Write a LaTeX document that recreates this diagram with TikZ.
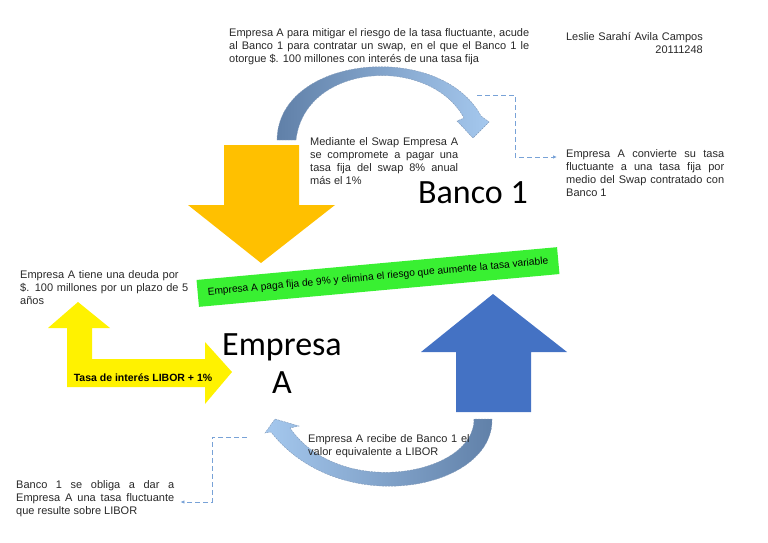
\documentclass[tikz,border=0pt]{standalone}
\usepackage{fontspec}
\setmainfont{Liberation Sans}
\newfontfamily\calibri{Carlito}
\usepackage{tikz}
\usetikzlibrary{arrows.meta}

\definecolor{swapgold}{RGB}{255,192,0}
\definecolor{swapblue}{RGB}{68,114,196}
\definecolor{liborgreen}{RGB}{57,240,50}
\definecolor{steeldark}{RGB}{96,128,168}
\definecolor{steellight}{RGB}{165,200,238}
\definecolor{dashblue}{RGB}{120,162,215}
\definecolor{textgray}{RGB}{40,40,40}

\begin{document}
\begin{tikzpicture}[x=1pt, y=-1pt,
  note/.style={inner sep=0, anchor=base west, text=textgray, font=\fontsize{11}{13}\selectfont},
  bigtxt/.style={inner sep=0, anchor=base, font=\calibri\fontsize{34}{38}\selectfont},
  dashlink/.style={dashblue, line width=0.8pt, dash pattern=on 5pt off 3pt, -{Latex[length=4pt,width=3.5pt]}},
  band/.style={draw=steeldark!80, line width=0.4pt, dash pattern=on 2pt off 1pt}]

\useasboundingbox (0,0) rectangle (768,543);

% Down arrow to Banco 1
\fill[swapgold] (224,145) -- (299,145) -- (299,205) -- (335,205) -- (261,263) -- (188,205) -- (224,205) -- cycle;

% Up arrow from Banco 1
\fill[swapblue] (456,412) -- (456,352) -- (421,352) -- (493,294) -- (567,352) -- (531,352) -- (531,412) -- cycle;

% L-shaped arrow
\fill[yellow] (78,302) -- (110,328) -- (92,328) -- (92,359) -- (205,359) -- (205,342) -- (232,372) -- (205,404) -- (205,387) -- (67,387) -- (67,328) -- (48,328) -- cycle;

% Curved arrows
\shade[band, left color=steeldark, right color=steellight] (277,140) .. controls (278,55) and (440,40) .. (481,116) -- (489,122) -- (473,138) -- (457,121) -- (464,118) .. controls (430,55) and (305,62) .. (296,140) -- cycle;
\shade[band, left color=steellight, right color=steeldark] (492,419) .. controls (494,490) and (340,520) .. (271,432) -- (265,433) -- (275,419) -- (299,426) -- (290,428) .. controls (340,500) and (475,475) .. (474,419) -- cycle;

% Big labels
\node[bigtxt, text width=150pt, align=center] (empresa) at (282,355) {Empresa\\A};
\node[bigtxt] (banco) at (473,203) {Banco 1};

% Green bar
\node[fill=liborgreen, rotate=5.2, minimum width=362pt, minimum height=27pt, inner sep=0, font=\fontsize{10.2}{12}\selectfont] (pago) at (378,277) {Empresa A paga fija de 9\% y elimina el riesgo que aumente la tasa variable};

\node[anchor=base, inner sep=0, font=\bfseries\fontsize{10.5}{12}\selectfont] (libor) at (143,381) {Tasa de interés LIBOR + 1\%};

% Notes
\node[note, text width=300pt, align=justify] (mitigar) at (229,37) {Empresa A para mitigar el riesgo de la tasa fluctuante, acude\linebreak al Banco 1 para contratar un swap, en el que el Banco 1 le\linebreak otorgue \$. 100 millones con interés de una tasa fija};
\node[note, text width=140pt, anchor=base east, align=right] (autor) at (703,41) {Leslie Sarahí Avila Campos\\20111248};
\node[note, text width=148pt, align=justify] (compromete) at (310,145) {Mediante el Swap Empresa A\linebreak se compromete a pagar una\linebreak tasa fija del swap 8\% anual\linebreak más el 1\%};
\node[note, text width=158pt, align=justify] (conv) at (566,157) {Empresa A convierte su tasa\linebreak fluctuante a una tasa fija por\linebreak medio del Swap contratado con\linebreak Banco 1};
\node[note, text width=170pt, align=left] (deuda) at (20,278) {Empresa A tiene una deuda por\\\$. 100 millones por un plazo de 5\\años};
\node[note, text width=158pt, align=justify] (obliga) at (16,488) {Banco 1 se obliga a dar a\linebreak Empresa A una tasa fluctuante\linebreak que resulte sobre LIBOR};
\node[note, text width=170pt, align=left] (recibe) at (308,442) {Empresa A recibe de Banco 1 el\\valor equivalente a LIBOR};

% Dashed links
\coordinate (topdash) at (477,95);
\coordinate (topbend) at (515,157);
\draw[dashlink, shorten >=9pt] (topdash) -| (topbend) -- (topbend -| conv.west);
\coordinate (botdash) at (247,437);
\coordinate (botbend) at (212,502);
\draw[dashlink, shorten >=6pt] (botdash) -| (botbend) -- (botbend -| obliga.east);

\end{tikzpicture}
\end{document}
